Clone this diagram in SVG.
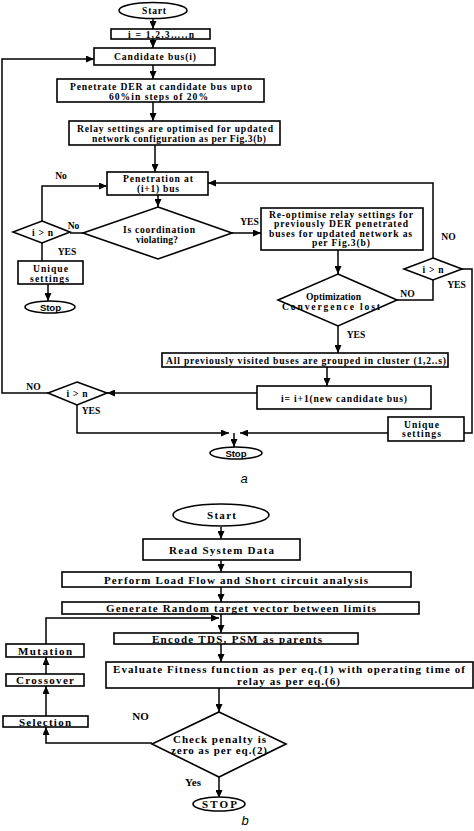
<svg xmlns="http://www.w3.org/2000/svg" width="474" height="831" viewBox="0 0 474 831">
<defs>
<marker id="ah" markerUnits="userSpaceOnUse" markerWidth="8" markerHeight="7" refX="8" refY="3.5" orient="auto"><path d="M0,0 L8,3.5 L0,7 z" fill="#000"/></marker>
<style>
.n{fill:#fff;stroke:#000;stroke-width:1.6}
.c path{fill:none;stroke:#000;stroke-width:1.5}
.c .a{marker-end:url(#ah)}
text{font-family:"Liberation Serif","Times New Roman",serif;font-weight:bold;fill:#000;text-anchor:middle;dominant-baseline:central}
.s{font-size:9.6px}
.m{font-size:11px}
.cap{font-family:"Liberation Sans",Arial,sans-serif;font-weight:normal;font-style:italic;font-size:13px}
.sans{font-family:"Liberation Sans",Arial,sans-serif}
</style>
</defs>
<rect width="474" height="831" fill="#fff"/>

<g class="c" id="connectors">
<path class="a" d="M153,18 V29"/>
<path class="a" d="M153,39 V48"/>
<path class="a" d="M48,393 H2 V59 H94"/>
<path class="a" d="M153,65 V79"/>
<path class="a" d="M153,102 V121"/>
<path class="a" d="M155,145 V172"/>
<path class="a" d="M158,195 V207"/>
<path d="M83,233 H70"/>
<path class="a" d="M42,221 V186 H107"/>
<path d="M42,243 V261"/>
<path class="a" d="M48,284 V301"/>
<path class="a" d="M232,233 H261"/>
<path class="a" d="M338,250 V274"/>
<path d="M397,300 H433 V280"/>
<path class="a" d="M433,258 V183 H208"/>
<path d="M462,269 H472 V433 H464"/>
<path class="a" d="M388,433 H240"/>
<path class="a" d="M77,405 V433 H229"/>
<path class="a" d="M234,433 V447"/>
<path class="a" d="M338,326 V353"/>
<path class="a" d="M327,367 V386"/>
<path class="a" d="M257,393 H107"/>

<path class="a" d="M221,527 V539"/>
<path class="a" d="M221,560 V572"/>
<path class="a" d="M221,587 V602"/>
<path class="a" d="M221,614 V633"/>
<path class="a" d="M46,644 V618 H219"/>
<path class="a" d="M221,644 V662"/>
<path class="a" d="M46,674 V657"/>
<path class="a" d="M46,716 V686"/>
<path class="a" d="M152,743 H46 V727"/>
<path class="a" d="M219,688 V712"/>
<path class="a" d="M219,777 V798"/>
</g>

<g id="a_start"><ellipse class="n" cx="153" cy="10.5" rx="34" ry="8"/><text class="s" x="154" y="10.5" textLength="24">Start</text></g>
<g id="a_init"><rect class="n" x="111" y="29" width="99" height="10"/><text class="s" x="161" y="34" textLength="66">i = 1,2,3…..n</text></g>
<g id="a_cand"><rect class="n" x="94" y="48" width="121" height="17"/><text class="s" x="155" y="56.5" textLength="82">Candidate bus(i)</text></g>
<g id="a_pen"><rect class="n" x="57" y="79" width="207" height="23"/><text class="s" x="161" y="86" textLength="182">Penetrate DER at candidate bus upto</text><text class="s" x="158.5" y="96" textLength="99">60%in steps of 20%</text></g>
<g id="a_relay"><rect class="n" x="69" y="121" width="211" height="24"/><text class="s" x="175" y="128" textLength="196">Relay settings are optimised for updated</text><text class="s" x="179" y="138" textLength="174">network configuration as per Fig.3(b)</text></g>
<g id="a_penat"><rect class="n" x="107" y="172" width="101" height="23"/><text class="s" x="158" y="178.5" textLength="70">Penetration at</text><text class="s" x="158" y="188.5" textLength="42">(i+1) bus</text></g>
<g id="a_coord"><polygon class="n" points="158,207 232,233 158,259 83,233"/><text class="s" x="159" y="229" textLength="72">Is coordination</text><text class="s" x="157" y="239" textLength="42">violating?</text></g>
<g id="a_in1"><polygon class="n" points="42,221 70,232 42,243 13,232"/><text class="s" x="42.5" y="232" textLength="21">i &gt; n</text></g>
<g id="a_uniq1"><rect class="n" x="18" y="261" width="65" height="23"/><text class="s" x="50.5" y="268" textLength="35">Unique</text><text class="s" x="49.5" y="278" textLength="39">settings</text></g>
<g id="a_stop1"><ellipse class="n" cx="50" cy="307" rx="25" ry="6"/><text class="s sans" x="50.5" y="307" textLength="21">Stop</text></g>
<g id="a_reopt"><rect class="n" x="261" y="208" width="162" height="42"/><text class="s" x="341" y="214" textLength="144">Re-optimise relay settings for</text><text class="s" x="341" y="223.5" textLength="134">previously DER penetrated</text><text class="s" x="340.5" y="233" textLength="143">buses for updated network as</text><text class="s" x="341" y="242.5" textLength="58">per Fig.3(b)</text></g>
<g id="a_opt"><polygon class="n" points="338,274 397,300 338,326 278,300"/><text class="s" x="333.5" y="296" textLength="55">Optimization</text><text class="s" x="331" y="306" textLength="98">Convergence  lost</text></g>
<g id="a_in2"><polygon class="n" points="433,258 462,269 433,280 404,269"/><text class="s" x="433" y="269" textLength="21">i &gt; n</text></g>
<g id="a_all"><rect class="n" x="162" y="353" width="286" height="14"/><text class="s" x="306" y="360" textLength="280">All previously visited buses are grouped in cluster (1,2..s)</text></g>
<g id="a_inc"><rect class="n" x="257" y="386" width="174" height="23"/><text class="s" x="344" y="398" textLength="126">i= i+1(new candidate bus)</text></g>
<g id="a_in3"><polygon class="n" points="77,382 107,393 77,405 48,393"/><text class="s" x="77" y="393" textLength="21">i &gt; n</text></g>
<g id="a_uniq2"><rect class="n" x="388" y="417" width="76" height="24"/><text class="s" x="421.5" y="424" textLength="35">Unique</text><text class="s" x="421.5" y="433.5" textLength="39">settings</text></g>
<g id="a_stop2"><ellipse class="n" cx="236" cy="453" rx="26" ry="6"/><text class="s sans" x="236" y="453" textLength="21">Stop</text></g>

<g id="a_labels">
<text class="s" x="61" y="175">No</text>
<text class="s" x="73.5" y="225">No</text>
<text class="s" x="67" y="251">YES</text>
<text class="s" x="249.5" y="221">YES</text>
<text class="s" x="407.5" y="293">NO</text>
<text class="s" x="448.5" y="236">NO</text>
<text class="s" x="456.5" y="284">YES</text>
<text class="s" x="356" y="334">YES</text>
<text class="s" x="33.5" y="386">NO</text>
<text class="s" x="91" y="410">YES</text>
<text class="cap" x="244" y="478">a</text>
</g>

<g id="b_start"><ellipse class="n" cx="221" cy="515" rx="48" ry="11"/><text class="m" x="221.5" y="515" textLength="29">Start</text></g>
<g id="b_read"><rect class="n" x="143" y="539" width="157" height="21"/><text class="m" x="221.5" y="550" textLength="105">Read System Data</text></g>
<g id="b_perf"><rect class="n" x="62" y="572" width="349" height="15"/><text class="m" x="236" y="580" textLength="264">Perform Load Flow and Short circuit analysis</text></g>
<g id="b_gen"><rect class="n" x="62" y="602" width="357" height="12"/><text class="m" x="241" y="608" textLength="270">Generate Random target vector between limits</text></g>
<g id="b_enc"><rect class="n" x="114" y="633" width="244" height="11"/><text class="m" x="237" y="638.5" textLength="170">Encode TDS, PSM as parents</text></g>
<g id="b_mut"><rect class="n" x="6" y="644" width="78" height="13"/><text class="m" x="45" y="650.5" textLength="54">Mutation</text></g>
<g id="b_eval"><rect class="n" x="106" y="662" width="367" height="26"/><text class="m" x="289" y="669" textLength="352">Evaluate Fitness function as per eq.(1) with operating time of</text><text class="m" x="288.5" y="681" textLength="103">relay as per eq.(6)</text></g>
<g id="b_cross"><rect class="n" x="6" y="674" width="78" height="12"/><text class="m" x="45" y="680" textLength="58">Crossover</text></g>
<g id="b_sel"><rect class="n" x="3" y="716" width="85" height="11"/><text class="m" x="45" y="721.5" textLength="52">Selection</text></g>
<g id="b_check"><polygon class="n" points="219,712 286,744 219,777 152,744"/><text class="m" x="219.5" y="739" textLength="93">Check penalty is</text><text class="m" x="219" y="750" textLength="96">zero as per eq.(2)</text></g>
<g id="b_stop"><ellipse class="n" cx="219" cy="804" rx="26" ry="7"/><text class="m" x="219.5" y="804" textLength="35">STOP</text></g>
<g id="b_labels">
<text class="m" x="140.5" y="716">NO</text>
<text class="m" x="193" y="782">Yes</text>
<text class="cap" x="245" y="820">b</text>
</g>
</svg>
